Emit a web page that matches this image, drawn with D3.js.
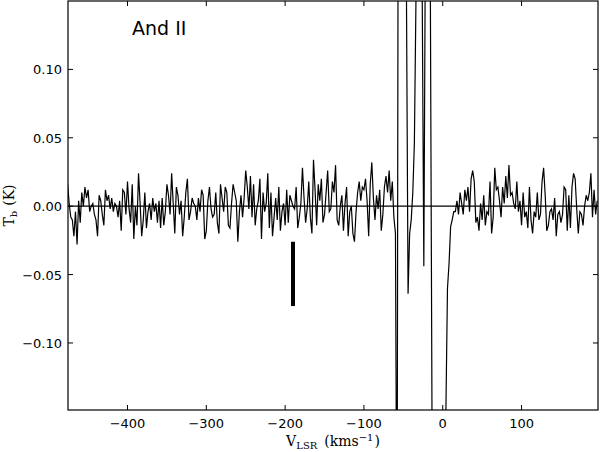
<!DOCTYPE html>
<html><head><meta charset="utf-8">
<script src="https://cdn.jsdelivr.net/npm/d3@7"></script>
<style>body{margin:0;background:#fff}</style></head>
<body><svg id="c" width="600" height="452"></svg>
<script>
// Spectrum brightness temperature in mK, left noise region (v=-476..-62 step 2)
const noiseLeftStart = -476;
const noiseLeft = [
 16,2,-8,-10,-22,-4,-28,4,-12,10,0,14,6,12,-4,0,2,-6,-10,-22,
 8,4,-6,-14,12,4,8,-2,6,-4,2,0,-8,4,-18,12,10,-6,18,-2,
 -12,16,-24,0,-14,24,2,-22,-10,10,-16,-4,2,-10,6,-4,2,-12,4,-16,
 6,-14,-4,16,8,-6,24,2,-20,14,8,-6,4,-22,-8,10,20,-10,-4,6,
 2,0,-10,6,-4,12,8,-24,-18,4,14,-2,-8,-6,10,-12,-20,16,6,-4,
 14,10,-14,-16,2,16,10,4,-26,-4,8,-8,6,26,14,-2,22,-8,16,-14,
 -2,4,20,-24,10,-4,2,24,-16,10,-22,-8,6,-10,14,-18,-4,2,-14,12,
 -12,8,4,0,-2,14,-16,-8,2,28,6,-12,-2,18,-8,-20,34,12,-14,16,
 4,20,-12,-6,10,26,-4,-2,18,10,30,-10,-14,0,8,-18,2,14,-22,-4,
 0,-20,-26,-4,10,18,4,14,12,20,4,-22,16,32,6,-10,8,-2,12,-18,
 -6,14,22,10,26,4,18,-8
];
// Line-emission region (v=-60..14 step 2), in mK
const coreStart = -60;
const core = [
 -20,-300,450,500,600,500,400,150,-64,-20,-10,10,46,150,600,600,400,150,-44,200,
 500,400,200,-100,-400,-500,-600,-600,-500,-500,-500,-500,-150,-60,-42,-15,-10,-4
];
// Right noise region (v=16..196 step 2), in mK
const noiseRightStart = 16;
const noiseRight = [
 -4,4,-6,10,2,-6,12,4,14,-4,20,26,18,-12,-8,-18,2,-10,8,-14,
 -4,-6,18,-20,-8,28,12,14,4,-8,14,2,22,6,30,8,10,2,-2,18,
 -4,4,-14,10,-8,-4,-16,14,-10,-20,-4,-8,10,-10,-6,18,28,8,-18,-14,
 -4,-2,-10,6,-22,-6,-4,-12,-6,14,12,-18,8,-16,14,24,20,-2,-20,-4,
 -6,-14,0,8,4,10,24,-8,12,-6,4
];
const markerV = -190, markerLow = -0.073, markerHigh = -0.026;
const xTicks = [-400,-300,-200,-100,0,100];
const yTicks = [-0.10,-0.05,0.00,0.05,0.10];
const title = "And II";

const data = [];
noiseLeft.forEach((t,i)=>data.push([noiseLeftStart+2*i,t/1000]));
core.forEach((t,i)=>data.push([coreStart+2*i,t/1000]));
noiseRight.forEach((t,i)=>data.push([noiseRightStart+2*i,t/1000]));

const svg = d3.select("#c");
const L=68,R=598,T=1,B=410;
const x = d3.scaleLinear().domain([-475.5,197]).range([L,R]);
const y = d3.scaleLinear().domain([-0.149,0.150]).range([B,T]);
svg.append("clipPath").attr("id","cp").append("rect").attr("x",L).attr("y",T).attr("width",R-L).attr("height",B-T);
const g = svg.append("g").attr("clip-path","url(#cp)");
g.append("path").datum(data).attr("fill","none").attr("stroke","#000").attr("stroke-width",1.2)
 .attr("d",d3.line().x(d=>x(d[0])).y(d=>y(d[1])));
g.append("line").attr("x1",L).attr("x2",R).attr("y1",y(0)).attr("y2",y(0)).attr("stroke","#000").attr("stroke-width",1.2);
g.append("line").attr("x1",x(markerV)).attr("x2",x(markerV)).attr("y1",y(markerLow)).attr("y2",y(markerHigh)).attr("stroke","#000").attr("stroke-width",4);

const font="DejaVu Sans";
xTicks.forEach(v=>{
 const px=x(v);
 svg.append("line").attr("x1",px).attr("x2",px).attr("y1",B).attr("y2",B-5).attr("stroke","#000");
 svg.append("line").attr("x1",px).attr("x2",px).attr("y1",T).attr("y2",T+5).attr("stroke","#000");
 svg.append("text").attr("x",px).attr("y",B+18).attr("text-anchor","middle").attr("font-family",font).attr("font-size",13).text(d3.format("")(v).replace("-","\u2212"));
});
yTicks.forEach(v=>{
 const py=y(v);
 svg.append("line").attr("x1",L).attr("x2",L+5).attr("y1",py).attr("y2",py).attr("stroke","#000");
 svg.append("line").attr("x1",R).attr("x2",R-5).attr("y1",py).attr("y2",py).attr("stroke","#000");
 svg.append("text").attr("x",L-6).attr("y",py+5).attr("text-anchor","end").attr("font-family",font).attr("font-size",13).text(d3.format(".2f")(v).replace("-","\u2212"));
});
svg.append("rect").attr("x",L).attr("y",T).attr("width",R-L).attr("height",B-T).attr("fill","none").attr("stroke","#000").attr("stroke-width",1.2);
svg.append("text").attr("x",132).attr("y",35).attr("font-family",font).attr("font-size",19).text(title);
const xl = svg.append("text").attr("x",(L+R)/2).attr("y",446).attr("text-anchor","middle").attr("font-family","DejaVu Serif").attr("font-size",14);
xl.append("tspan").text("V");
xl.append("tspan").attr("font-size",10).attr("dy",3).text("LSR");
xl.append("tspan").attr("dy",-3).attr("dx",7).text("(kms");
xl.append("tspan").attr("font-size",10).attr("dy",-5).text("\u22121");
xl.append("tspan").attr("dy",5).attr("dx",1).text(")");
const yl = svg.append("text").attr("transform",`translate(14,${(T+B)/2}) rotate(-90)`).attr("text-anchor","middle").attr("font-family","DejaVu Serif").attr("font-size",14);
yl.append("tspan").text("T");
yl.append("tspan").attr("font-size",10).attr("dy",3).text("b");
yl.append("tspan").attr("dy",-3).attr("dx",5).text("(K)");
</script></body></html>
